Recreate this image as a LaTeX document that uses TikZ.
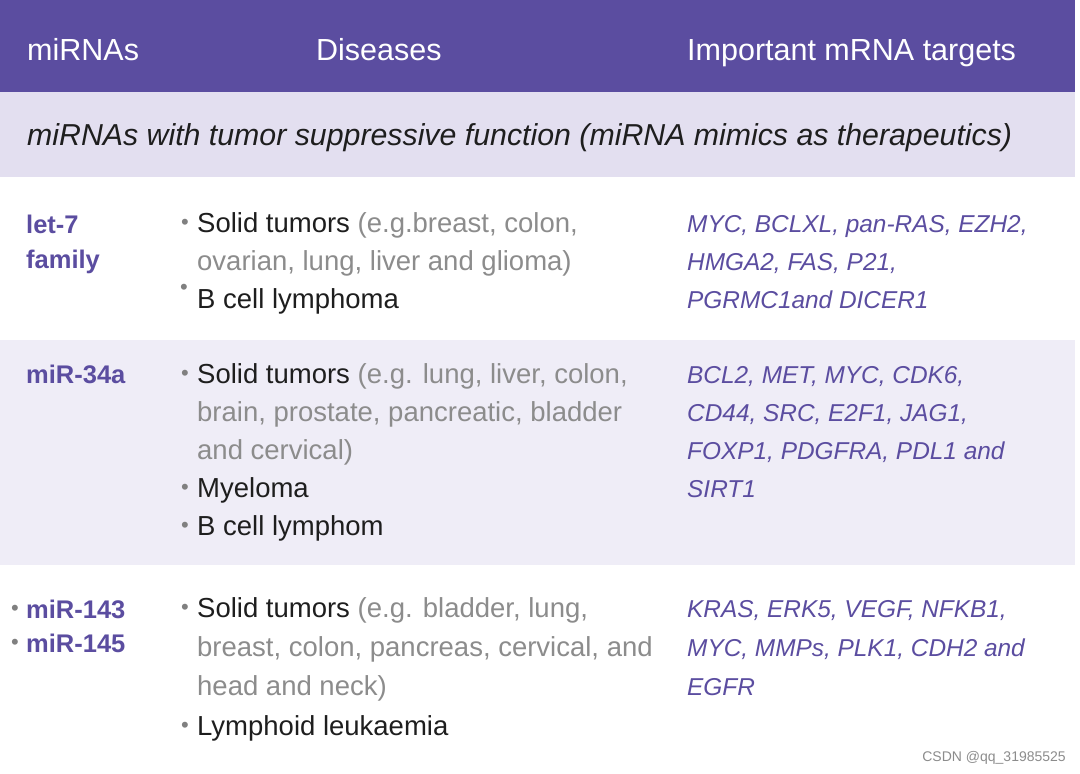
\documentclass[tikz,border=0pt]{standalone}
\usepackage{fontspec}
\setmainfont{Liberation Sans}
\definecolor{hdr}{HTML}{5B4DA0}
\definecolor{sub}{HTML}{E3DFF0}
\definecolor{alt}{HTML}{EFEDF7}
\definecolor{gr}{HTML}{8C8C8C}
\definecolor{tx}{HTML}{1E1E1E}
\begin{document}
\begin{tikzpicture}[x=1pt,y=-1pt,
  t/.style={anchor=base west,inner sep=0pt,font=\fontsize{27.5}{30}\selectfont,text=tx},
  h/.style={t,font=\fontsize{30.5}{34}\selectfont,text=white},
  nm/.style={t,font=\fontsize{25.5}{30}\selectfont\bfseries,text=hdr},
  tg/.style={t,font=\fontsize{24.4}{30}\selectfont\itshape,text=hdr},
  bl/.style={anchor=center,inner sep=0pt,font=\fontsize{22}{24}\selectfont,text=gray}]
\useasboundingbox (0,0) rectangle (1080,774);
\fill[white] (0,0) rectangle (1080,774);
\fill[hdr] (0,0) rectangle (1075,92);
\fill[sub] (0,92) rectangle (1075,177);
\fill[alt] (0,340) rectangle (1075,565);
\node[h] (h1) at (27,60) {miRNAs};
\node[h] (h2) at (316,60) {Diseases};
\node[h] (h3) at (687,60) {Important mRNA targets};
\node[t,font=\fontsize{30.3}{34}\selectfont\itshape] (s) at (27,145) {miRNAs with tumor suppressive function (miRNA mimics as therapeutics)};
% row 1
\node[nm] (n1a) at (26,233) {let-7};
\node[nm] (n1b) at (26,268) {family};
\node[bl] (b11) at (185,224) {•};
\node[t] (d11) at (197,232) {Solid tumors \textcolor{gr}{(e.g.breast, colon,}};
\node[t,text=gr] (d12) at (197,270) {ovarian, lung, liver and glioma)};
\node[bl] (b12) at (184,289) {•};
\node[t] (d13) at (197,308) {B cell lymphoma};
\node[tg] (g11) at (687,232) {MYC, BCLXL, pan-RAS, EZH2,};
\node[tg] (g12) at (687,270) {HMGA2, FAS, P21,};
\node[tg] (g13) at (687,308) {PGRMC1and DICER1};
% row 2
\node[nm] (n2) at (26,383) {miR-34a};
\node[bl] (b21) at (185,375) {•};
\node[t] (d21) at (197,383) {Solid tumors \textcolor{gr}{(e.g. lung, liver, colon,}};
\node[t,text=gr] (d22) at (197,421) {brain, prostate, pancreatic, bladder};
\node[t,text=gr] (d23) at (197,459) {and cervical)};
\node[bl] (b22) at (185,489) {•};
\node[t] (d24) at (197,497) {Myeloma};
\node[bl] (b23) at (185,527) {•};
\node[t] (d25) at (197,535) {B cell lymphom};
\node[tg] (g21) at (687,383) {BCL2, MET, MYC, CDK6,};
\node[tg] (g22) at (687,421) {CD44, SRC, E2F1, JAG1,};
\node[tg] (g23) at (687,459) {FOXP1, PDGFRA, PDL1 and};
\node[tg] (g24) at (687,497) {SIRT1};
% row 3
\node[bl] (b3a) at (15,610) {•};
\node[nm] (n3a) at (26,618) {miR-143};
\node[bl] (b3b) at (15,644) {•};
\node[nm] (n3b) at (26,652) {miR-145};
\node[bl] (b31) at (185,609) {•};
\node[t] (d31) at (197,617) {Solid tumors \textcolor{gr}{(e.g. bladder, lung,}};
\node[t,text=gr] (d32) at (197,656) {breast, colon, pancreas, cervical, and};
\node[t,text=gr] (d33) at (197,695) {head and neck)};
\node[bl] (b32) at (185,727) {•};
\node[t] (d34) at (197,735) {Lymphoid leukaemia};
\node[tg] (g31) at (687,617) {KRAS, ERK5, VEGF, NFKB1,};
\node[tg] (g32) at (687,656) {MYC, MMPs, PLK1, CDH2 and};
\node[tg] (g33) at (687,695) {EGFR};
\node[anchor=base east,inner sep=0pt,font=\fontsize{14}{16}\selectfont,text=gr] (w) at (1066,761) {CSDN @qq\_31985525};
\end{tikzpicture}
\end{document}
